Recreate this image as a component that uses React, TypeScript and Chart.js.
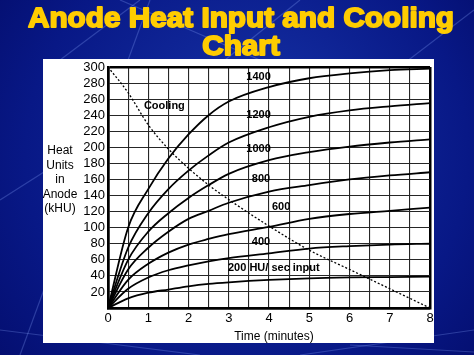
import { useEffect, useRef } from 'react';
import { Chart, registerables } from 'chart.js';

Chart.register(...registerables);

const FONT = '"Liberation Sans", Arial, sans-serif';

// Time in minutes
const times = [0, 0.5, 1, 1.5, 2, 2.5, 3, 4, 5, 6, 7, 8];
// Heat input curves (kHU)
const input1400 = [0, 100, 148, 186, 216, 240, 257, 275, 286, 292, 296, 298];
const input1200 = [0, 75, 118, 148, 171, 190, 206, 225, 238, 246, 251, 255];
const input1000 = [0, 60, 95, 118, 137, 153, 167, 184, 194, 201, 206, 210];
const input800 = [0, 48, 75, 95, 111, 121, 131, 145, 153, 160, 165, 169];
const input600 = [0, 35, 55, 69, 79, 86, 92, 101, 111, 117, 121, 125];
const input400 = [0, 24, 38, 47, 53, 58, 62, 68, 74, 77, 79, 80];
const input200 = [0, 12, 19, 23, 27, 30, 32, 35, 37, 38, 38.5, 39];
// Cooling curve (kHU)
const cooling = [300, 268, 228, 198, 174, 153, 135, 102, 72, 48, 24, 0];

const inputSeries = [input1400, input1200, input1000, input800, input600, input400, input200];
const curveLabels = ['1400', '1200', '1000', '800', '600', '400', '200 HU/ sec input'];
// label anchors in data coordinates [minutes, kHU]
const curveLabelAnchors = [
  [3.74, 287], [3.74, 240], [3.74, 198], [3.8, 160], [4.3, 126], [3.8, 82], [4.12, 50],
];
const coolingLabel = 'Cooling';
const coolingAnchor = [1.4, 252];

const xTitle = 'Time (minutes)';
const yTitleLines = ['Heat', 'Units', 'in', 'Anode', '(kHU)'];
const titleLines = ['Anode Heat Input and Cooling', 'Chart'];

const toPoints = (vals: number[]) => times.map((t, i) => ({ x: t, y: vals[i] }));

const decorPlugin = {
  id: 'decor',
  beforeDraw(chart: any) {
    const { ctx, width, height } = chart;
    ctx.save();
    const g = ctx.createRadialGradient(width * 0.55, height * 0.35, 20, width * 0.5, height * 0.5, width * 0.75);
    g.addColorStop(0, '#1530a4');
    g.addColorStop(0.6, '#081886');
    g.addColorStop(1, '#020964');
    ctx.fillStyle = g;
    ctx.fillRect(0, 0, width, height);
    // faint decorative streaks
    ctx.strokeStyle = 'rgba(140,170,255,0.28)';
    ctx.lineWidth = 1.2;
    const streaks = [
      [0, 200, 110, 130], [20, 355, 150, 0], [120, 0, 260, 60], [300, 0, 200, 80],
      [474, 10, 330, 120], [0, 330, 200, 355], [300, 355, 474, 330], [350, 345, 474, 352],
      [60, 60, 140, 0],
    ];
    for (const s of streaks) {
      ctx.beginPath();
      ctx.moveTo(s[0], s[1]);
      ctx.lineTo(s[2], s[3]);
      ctx.stroke();
    }
    // white panel
    ctx.fillStyle = '#ffffff';
    ctx.fillRect(43, 59, 391, 284);
    // title
    ctx.fillStyle = '#ffcc00';
    ctx.strokeStyle = '#ffcc00';
    ctx.lineWidth = 1.8;
    ctx.lineJoin = 'round';
    ctx.textAlign = 'center';
    ctx.textBaseline = 'alphabetic';
    ctx.font = `bold 28px ${FONT}`;
    const w0 = ctx.measureText(titleLines[0]).width;
    const sx = 426 / w0;
    const baselines = [27, 55];
    titleLines.forEach((line, i) => {
      ctx.save();
      ctx.translate(241, baselines[i]);
      ctx.scale(sx, 1);
      ctx.fillText(line, 0, 0);
      ctx.strokeText(line, 0, 0);
      ctx.restore();
    });
    ctx.restore();
  },
  afterDatasetsDraw(chart: any) {
    const { ctx } = chart;
    const xs = chart.scales.x;
    const ys = chart.scales.y;
    ctx.save();
    ctx.fillStyle = '#000';
    ctx.font = `bold 11px ${FONT}`;
    ctx.textBaseline = 'middle';
    ctx.textAlign = 'center';
    curveLabels.forEach((lab, i) => {
      const [t, v] = curveLabelAnchors[i];
      ctx.fillText(lab, xs.getPixelForValue(t), ys.getPixelForValue(v));
    });
    ctx.fillText(coolingLabel, xs.getPixelForValue(coolingAnchor[0]), ys.getPixelForValue(coolingAnchor[1]));
    // axis titles
    ctx.font = `12px ${FONT}`;
    ctx.fillText(xTitle, 274, 337);
    yTitleLines.forEach((l, i) => ctx.fillText(l, 60, 151 + i * 14.5));
    ctx.restore();
  },
};

export default function App() {
  const ref = useRef<HTMLCanvasElement | null>(null);
  useEffect(() => {
    if (!ref.current) return;
    const lineDs = inputSeries.map((vals, i) => ({
      label: curveLabels[i],
      data: toPoints(vals),
      borderColor: '#000',
      borderWidth: 1.8,
      pointRadius: 0,
      cubicInterpolationMode: 'monotone' as const,
      fill: false,
    }));
    const coolDs = {
      label: coolingLabel,
      data: toPoints(cooling),
      borderColor: '#000',
      borderWidth: 1.3,
      borderDash: [2, 2],
      pointRadius: 0,
      cubicInterpolationMode: 'monotone' as const,
      fill: false,
    };
    const chart = new Chart(ref.current, {
      type: 'line',
      data: { datasets: [...lineDs, coolDs] },
      plugins: [decorPlugin],
      options: {
        animation: false,
        responsive: false,
        devicePixelRatio: 1,
        layout: { padding: { top: 67, right: 44, bottom: 0, left: 0 } },
        plugins: { legend: { display: false }, title: { display: false }, tooltip: { enabled: false } },
        scales: {
          x: {
            type: 'linear',
            min: 0,
            max: 8,
            afterFit: (s: any) => { s.height = 47; },
            ticks: {
              stepSize: 0.5,
              color: '#000',
              font: { family: FONT, size: 13 },
              padding: 3,
              maxRotation: 0,
              autoSkip: false,
              callback: (v: any) => (Number.isInteger(v) ? String(v) : ''),
            },
            grid: {
              drawTicks: false,
              color: (c: any) => (c.tick && (c.tick.value === 0 || c.tick.value === 8) ? '#000' : '#262626'),
              lineWidth: (c: any) => (c.tick && (c.tick.value === 0 || c.tick.value === 8) ? 2.5 : 1.1),
            },
            border: { display: true, color: '#000', width: 2.5 },
          },
          y: {
            type: 'linear',
            min: 0,
            max: 300,
            afterFit: (s: any) => { s.width = 108; },
            ticks: {
              stepSize: 20,
              color: '#000',
              font: { family: FONT, size: 13 },
              padding: 3,
              autoSkip: false,
              callback: (v: any) => (v === 0 ? '' : String(v)),
            },
            grid: {
              drawTicks: false,
              color: (c: any) => (c.tick && (c.tick.value === 0 || c.tick.value === 300) ? '#000' : '#262626'),
              lineWidth: (c: any) => (c.tick && (c.tick.value === 0 || c.tick.value === 300) ? 2.5 : 1.1),
            },
            border: { display: true, color: '#000', width: 2.5 },
          },
        },
      },
    } as any);
    return () => chart.destroy();
  }, []);
  return (
    <div style={{ position: 'fixed', left: 0, top: 0, width: 474, height: 355 }}>
      <canvas ref={ref} width={474} height={355} style={{ display: 'block', width: 474, height: 355 }} />
    </div>
  );
}
